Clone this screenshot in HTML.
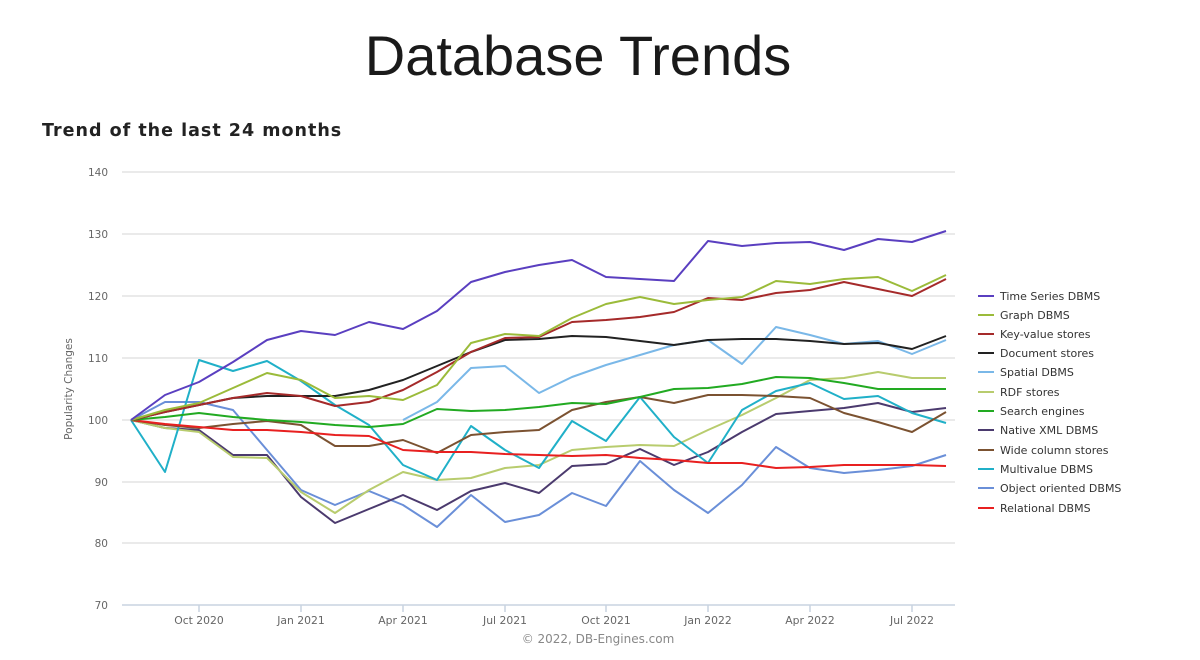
<!DOCTYPE html>
<html><head><meta charset="utf-8"><style>
body{margin:0;background:#fff;width:1200px;height:660px;overflow:hidden}
svg{display:block}
text{font-family:"DejaVu Sans",sans-serif}
</style></head><body>
<svg width="1200" height="660" viewBox="0 0 1200 660">
<text x="578" y="75" font-size="56" text-anchor="middle" fill="#1a1a1a" style="font-family:'Liberation Sans',sans-serif">Database Trends</text>
<text x="42" y="136" font-size="17.5" font-weight="bold" fill="#222" letter-spacing="1">Trend of the last 24 months</text>
<g stroke="#e4e4e4" stroke-width="1.5">
<line x1="122" x2="955" y1="172" y2="172"/><line x1="122" x2="955" y1="234" y2="234"/>
<line x1="122" x2="955" y1="296" y2="296"/><line x1="122" x2="955" y1="358" y2="358"/>
<line x1="122" x2="955" y1="420" y2="420"/><line x1="122" x2="955" y1="482" y2="482"/>
<line x1="122" x2="955" y1="543" y2="543"/>
</g>
<line x1="122" x2="955" y1="605" y2="605" stroke="#c8d3e0" stroke-width="1.5"/>
<g stroke="#c8d3e0" stroke-width="1.5">
<line x1="199" x2="199" y1="605" y2="612"/><line x1="301" x2="301" y1="605" y2="612"/><line x1="403" x2="403" y1="605" y2="612"/><line x1="505" x2="505" y1="605" y2="612"/><line x1="606" x2="606" y1="605" y2="612"/><line x1="708" x2="708" y1="605" y2="612"/><line x1="810" x2="810" y1="605" y2="612"/><line x1="912" x2="912" y1="605" y2="612"/>
</g>
<g font-size="10.5" fill="#666" text-anchor="end">
<text x="108" y="176">140</text><text x="108" y="238">130</text><text x="108" y="300">120</text><text x="108" y="362">110</text><text x="108" y="424">100</text><text x="108" y="486">90</text><text x="108" y="547">80</text><text x="108" y="609">70</text>
</g>
<g font-size="10.8" fill="#666" text-anchor="middle">
<text x="199" y="624">Oct 2020</text><text x="301" y="624">Jan 2021</text><text x="403" y="624">Apr 2021</text><text x="505" y="624">Jul 2021</text><text x="606" y="624">Oct 2021</text><text x="708" y="624">Jan 2022</text><text x="810" y="624">Apr 2022</text><text x="912" y="624">Jul 2022</text>
</g>
<text transform="translate(72,389) rotate(-90)" font-size="10.5" fill="#666" text-anchor="middle">Popularity Changes</text>
<text x="598" y="643" font-size="12" fill="#888" text-anchor="middle">© 2022, DB-Engines.com</text>
<g fill="none" stroke-width="2" stroke-linejoin="round">
<polyline stroke="#6a8fd8" points="131,420 165,402 199,402 233,410 267,450 301,490 335,505 369,491 403,505 437,527 471,495 505,522 539,515 572,493 606,506 640,461 674,490 708,513 742,485 776,447 810,468 844,473 878,470 912,466 946,455"/>
<polyline stroke="#4b3a6e" points="131,420 165,428 199,430 233,455 267,455 301,497 335,523 369,509 403,495 437,510 471,491 505,483 539,493 572,466 606,464 640,449 674,465 708,452 742,432 776,414 810,411 844,408 878,403 912,412 946,408"/>
<polyline stroke="#b8cc6e" points="131,420 165,428 199,432 233,457 267,458 301,492 335,513 369,490 403,472 437,480 471,478 505,468 539,465 572,450 606,447 640,445 674,446 708,430 742,415 776,398 810,380 844,378 878,372 912,378 946,378"/>
<polyline stroke="#20b0c8" points="131,420 165,472 199,360 233,371 267,361 301,381 335,405 369,425 403,465 437,480 471,426 505,450 539,468 572,421 606,441 640,397 674,437 708,463 742,410 776,391 810,383 844,399 878,396 912,413 946,423"/>
<polyline stroke="#7b5231" points="131,420 165,425 199,428 233,424 267,421 301,425 335,446 369,446 403,440 437,453 471,435 505,432 539,430 572,410 606,402 640,397 674,403 708,395 742,395 776,396 810,398 844,413 878,422 912,432 946,412"/>
<polyline stroke="#e82020" points="131,420 165,424 199,427 233,430 267,430 301,432 335,435 369,436 403,450 437,452 471,452 505,454 539,455 572,456 606,455 640,458 674,460 708,463 742,463 776,468 810,467 844,465 878,465 912,465 946,466"/>
<polyline stroke="#22aa22" points="131,420 165,417 199,413 233,417 267,420 301,422 335,425 369,427 403,424 437,409 471,411 505,410 539,407 572,403 606,404 640,397 674,389 708,388 742,384 776,377 810,378 844,383 878,389 912,389 946,389"/>
<polyline stroke="#7ab8e8" points="403,420 437,402 471,368 505,366 539,393 572,377 606,365 640,355 674,345 708,340 742,364 776,327 810,335 844,344 878,341 912,354 946,340"/>
<polyline stroke="#222" points="131,420 165,412 199,405 233,398 267,396 301,396 335,396 369,390 403,380 437,366 471,352 505,340 539,339 572,336 606,337 640,341 674,345 708,340 742,339 776,339 810,341 844,344 878,343 912,349 946,336"/>
<polyline stroke="#a52a2a" points="131,420 165,412 199,405 233,398 267,393 301,396 335,406 369,402 403,390 437,372 471,352 505,338 539,337 572,322 606,320 640,317 674,312 708,298 742,300 776,293 810,290 844,282 878,289 912,296 946,279"/>
<polyline stroke="#9bbb3a" points="131,420 165,410 199,403 233,388 267,373 301,380 335,398 369,396 403,400 437,385 471,343 505,334 539,336 572,318 606,304 640,297 674,304 708,300 742,297 776,281 810,284 844,279 878,277 912,291 946,275"/>
<polyline stroke="#5a3fc0" points="131,420 165,395 199,382 233,362 267,340 301,331 335,335 369,322 403,329 437,311 471,282 505,272 539,265 572,260 606,277 640,279 674,281 708,241 742,246 776,243 810,242 844,250 878,239 912,242 946,231"/>
</g>
<g stroke-width="2">
<line x1="978" x2="994" y1="296" y2="296" stroke="#5a3fc0"/>
<line x1="978" x2="994" y1="315" y2="315" stroke="#9bbb3a"/>
<line x1="978" x2="994" y1="334" y2="334" stroke="#a52a2a"/>
<line x1="978" x2="994" y1="353" y2="353" stroke="#222"/>
<line x1="978" x2="994" y1="372" y2="372" stroke="#7ab8e8"/>
<line x1="978" x2="994" y1="392" y2="392" stroke="#b8cc6e"/>
<line x1="978" x2="994" y1="411" y2="411" stroke="#22aa22"/>
<line x1="978" x2="994" y1="430" y2="430" stroke="#4b3a6e"/>
<line x1="978" x2="994" y1="450" y2="450" stroke="#7b5231"/>
<line x1="978" x2="994" y1="469" y2="469" stroke="#20b0c8"/>
<line x1="978" x2="994" y1="488" y2="488" stroke="#6a8fd8"/>
<line x1="978" x2="994" y1="508" y2="508" stroke="#e82020"/>
</g>
<g font-size="11" fill="#333">
<text x="1000" y="300">Time Series DBMS</text><text x="1000" y="319">Graph DBMS</text><text x="1000" y="338">Key-value stores</text><text x="1000" y="357">Document stores</text><text x="1000" y="376">Spatial DBMS</text><text x="1000" y="396">RDF stores</text><text x="1000" y="415">Search engines</text><text x="1000" y="434">Native XML DBMS</text><text x="1000" y="454">Wide column stores</text><text x="1000" y="473">Multivalue DBMS</text><text x="1000" y="492">Object oriented DBMS</text><text x="1000" y="512">Relational DBMS</text>
</g>
</svg>
</body></html>
